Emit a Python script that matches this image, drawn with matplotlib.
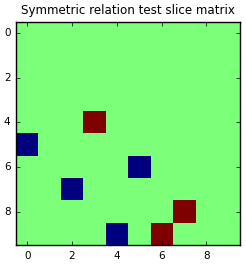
import numpy as np
import matplotlib
matplotlib.use('Agg')
import matplotlib.pyplot as plt

plt.style.use('classic')

# matrix size and nonzero cells (row, col)
n = 10
pos_rows = [4, 8, 9]
pos_cols = [3, 7, 6]
neg_rows = [5, 6, 7, 9]
neg_cols = [0, 5, 2, 4]

mat = np.zeros((n, n))
mat[pos_rows, pos_cols] = 1
mat[neg_rows, neg_cols] = -1

fig = plt.figure(figsize=(2.46, 2.66), dpi=100, facecolor='white')
ax = fig.add_axes([0.065, 0.079, 0.911, 0.838])
ax.imshow(mat, cmap='jet', vmin=-1, vmax=1, interpolation='nearest', aspect='auto')
ax.set_title('Symmetric relation test slice matrix', fontsize=8.6, y=1.005)
ax.set_xticks([0, 2, 4, 6, 8])
ax.set_yticks([0, 2, 4, 6, 8])
ax.tick_params(labelsize=7.5, length=3)
ax.set_xlim(-0.5, n - 0.5)
ax.set_ylim(n - 0.5, -0.5)

fig.savefig('out.png', dpi=100, facecolor='white')
